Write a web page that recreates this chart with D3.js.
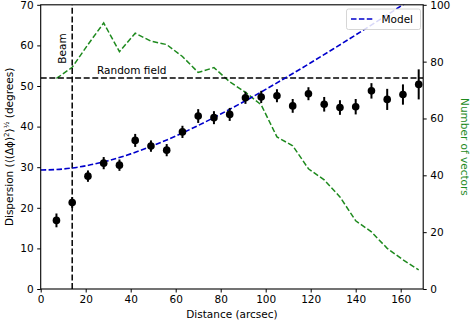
<!DOCTYPE html>
<html>
<head>
<meta charset="utf-8">
<script src="https://cdn.jsdelivr.net/npm/d3@7"></script>
<style>
  html, body { margin: 0; padding: 0; background: #fff; }
  svg { display: block; font-family: "DejaVu Sans", sans-serif; }
</style>
</head>
<body>
<svg id="chart" width="474" height="321"></svg>
<script>
// ---- data ----
const distance = [7, 14, 21, 28, 35, 42, 49, 56, 63, 70, 77, 84, 91, 98, 105, 112, 119, 126, 133, 140, 147, 154, 161, 168];
const dispersion = [16.9, 21.3, 27.8, 31.0, 30.5, 36.6, 35.2, 34.2, 38.7, 42.6, 42.2, 43.0, 47.1, 47.3, 47.6, 45.1, 48.1, 45.5, 44.7, 44.9, 48.8, 46.7, 47.9, 50.4];
const dispersionErr = [1.7, 1.3, 1.4, 1.5, 1.4, 1.6, 1.4, 1.5, 1.5, 1.7, 1.6, 1.6, 1.5, 1.5, 1.6, 1.7, 1.6, 1.8, 1.8, 1.9, 1.9, 2.6, 2.5, 3.7];
const nVectors = [74.1, 78.0, 86.0, 93.6, 83.5, 90.0, 87.2, 86.0, 81.8, 76.2, 77.9, 72.9, 69.2, 64.8, 53.5, 50.4, 42.3, 38.4, 32.4, 24.0, 20.1, 14.3, 10.3, 6.7];
const modelX = [0, 10, 20, 30, 40, 50, 60, 70, 80, 90, 100, 110, 120, 130, 140, 150, 160, 170];
const modelY = [29.3, 29.56, 30.34, 31.6, 33.28, 35.33, 37.68, 40.28, 43.09, 46.06, 49.17, 52.4, 55.72, 59.12, 62.58, 66.1, 69.66, 73.26];
const xTicks = [0, 20, 40, 60, 80, 100, 120, 140, 160];
const yLeftTicks = [0, 10, 20, 30, 40, 50, 60, 70];
const yRightTicks = [0, 20, 40, 60, 80, 100];
const randomField = 52;
const beam = 14;

// ---- layout ----
const svg = d3.select("#chart");
const L = 40.7, R = 423.2, T = 4.8, B = 289;
const x = d3.scaleLinear().domain([0, 170]).range([L, R]);
const yL = d3.scaleLinear().domain([0, 70]).range([B, T]);
const yR = d3.scaleLinear().domain([0, 100]).range([B, T]);

svg.append("defs").append("clipPath").attr("id", "clip")
  .append("rect").attr("x", L).attr("y", T).attr("width", R - L).attr("height", B - T);

const plot = svg.append("g").attr("clip-path", "url(#clip)");
const green = "#1e8a1e";

// green number of vectors
plot.append("path")
  .datum(distance.map((d, i) => [d, nVectors[i]]))
  .attr("fill", "none").attr("stroke", green).attr("stroke-width", 1.5)
  .attr("stroke-dasharray", "5.5,2.4")
  .attr("d", d3.line().x(d => x(d[0])).y(d => yR(d[1])));

// random field line
plot.append("line")
  .attr("x1", x(0)).attr("x2", x(170)).attr("y1", yL(randomField)).attr("y2", yL(randomField))
  .attr("stroke", "#000").attr("stroke-width", 1.5).attr("stroke-dasharray", "6,2.6");

// beam line
plot.append("line")
  .attr("x1", x(beam)).attr("x2", x(beam)).attr("y1", yL(0)).attr("y2", yL(70))
  .attr("stroke", "#000").attr("stroke-width", 1.5).attr("stroke-dasharray", "6,2.6");

// model
plot.append("path")
  .datum(modelX.map((d, i) => [d, modelY[i]]))
  .attr("fill", "none").attr("stroke", "#0000cc").attr("stroke-width", 1.6)
  .attr("stroke-dasharray", "5.5,2.4")
  .attr("d", d3.line().curve(d3.curveMonotoneX).x(d => x(d[0])).y(d => yL(d[1])));

// error bars + points
const pts = svg.append("g");
pts.selectAll("line.err").data(distance).enter().append("line")
  .attr("x1", d => x(d)).attr("x2", d => x(d))
  .attr("y1", (d, i) => yL(dispersion[i] - dispersionErr[i]))
  .attr("y2", (d, i) => yL(dispersion[i] + dispersionErr[i]))
  .attr("stroke", "#000").attr("stroke-width", 2);
pts.selectAll("circle").data(distance).enter().append("circle")
  .attr("cx", d => x(d)).attr("cy", (d, i) => yL(dispersion[i]))
  .attr("r", 3.8).attr("fill", "#000");

// texts in plot
svg.append("text").attr("x", 97).attr("y", 73.5)
  .attr("font-size", 10.5).attr("fill", "#000").text("Random field");
svg.append("text")
  .attr("transform", `translate(65.5,48.5) rotate(-90)`)
  .attr("text-anchor", "middle").attr("font-size", 10.5).attr("fill", "#000").text("Beam");

// axes
const fs = 10.5;
const ax = svg.append("g").attr("transform", `translate(0,${B})`)
  .call(d3.axisBottom(x).tickValues(xTicks).tickSizeOuter(0).tickSize(3.5).tickPadding(3.5));
const ayL = svg.append("g").attr("transform", `translate(${L},0)`)
  .call(d3.axisLeft(yL).tickValues(yLeftTicks).tickSizeOuter(0).tickSize(3.5).tickPadding(3.5));
const ayR = svg.append("g").attr("transform", `translate(${R},0)`)
  .call(d3.axisRight(yR).tickValues(yRightTicks).tickSizeOuter(0).tickSize(3.5).tickPadding(3.5));
[ax, ayL, ayR].forEach(g => {
  g.select(".domain").remove();
  g.selectAll("text").attr("font-size", fs).attr("font-family", "DejaVu Sans").attr("fill", "#000");
  g.selectAll("line").attr("stroke", "#000").attr("stroke-width", 1);
});

// frame
svg.append("rect").attr("x", L).attr("y", T).attr("width", R - L).attr("height", B - T)
  .attr("fill", "none").attr("stroke", "#000").attr("stroke-width", 1.1);

// axis labels
svg.append("text").attr("x", (L + R) / 2).attr("y", 318)
  .attr("text-anchor", "middle").attr("font-size", fs).attr("fill", "#000").text("Distance (arcsec)");

const yl = svg.append("text")
  .attr("transform", `translate(12.5,${(T + B) / 2}) rotate(-90)`)
  .attr("text-anchor", "middle").attr("font-size", fs).attr("fill", "#000");
yl.append("tspan").text("Dispersion (⟨(Δϕ)");
yl.append("tspan").attr("font-size", 7).attr("dy", -4).text("2");
yl.append("tspan").attr("dy", 4).text("⟩");
yl.append("tspan").attr("font-size", 7).attr("dy", -4).text("½");
yl.append("tspan").attr("dy", 4).text(" (degrees)");

svg.append("text")
  .attr("transform", `translate(461,${(T + B) / 2}) rotate(90)`)
  .attr("text-anchor", "middle").attr("font-size", fs).attr("fill", green).text("Number of vectors");

// legend
const lg = svg.append("g");
lg.append("rect").attr("x", 346.5).attr("y", 9).attr("width", 74).attr("height", 20.5).attr("rx", 2)
  .attr("fill", "#fff").attr("fill-opacity", 0.85).attr("stroke", "#ccc").attr("stroke-width", 0.8);
lg.append("line").attr("x1", 351).attr("x2", 373).attr("y1", 19).attr("y2", 19)
  .attr("stroke", "#0000cc").attr("stroke-width", 1.6).attr("stroke-dasharray", "5.5,2.4");
lg.append("text").attr("x", 381.5).attr("y", 22.8).attr("font-size", fs).attr("fill", "#000").text("Model");
</script>
</body>
</html>
